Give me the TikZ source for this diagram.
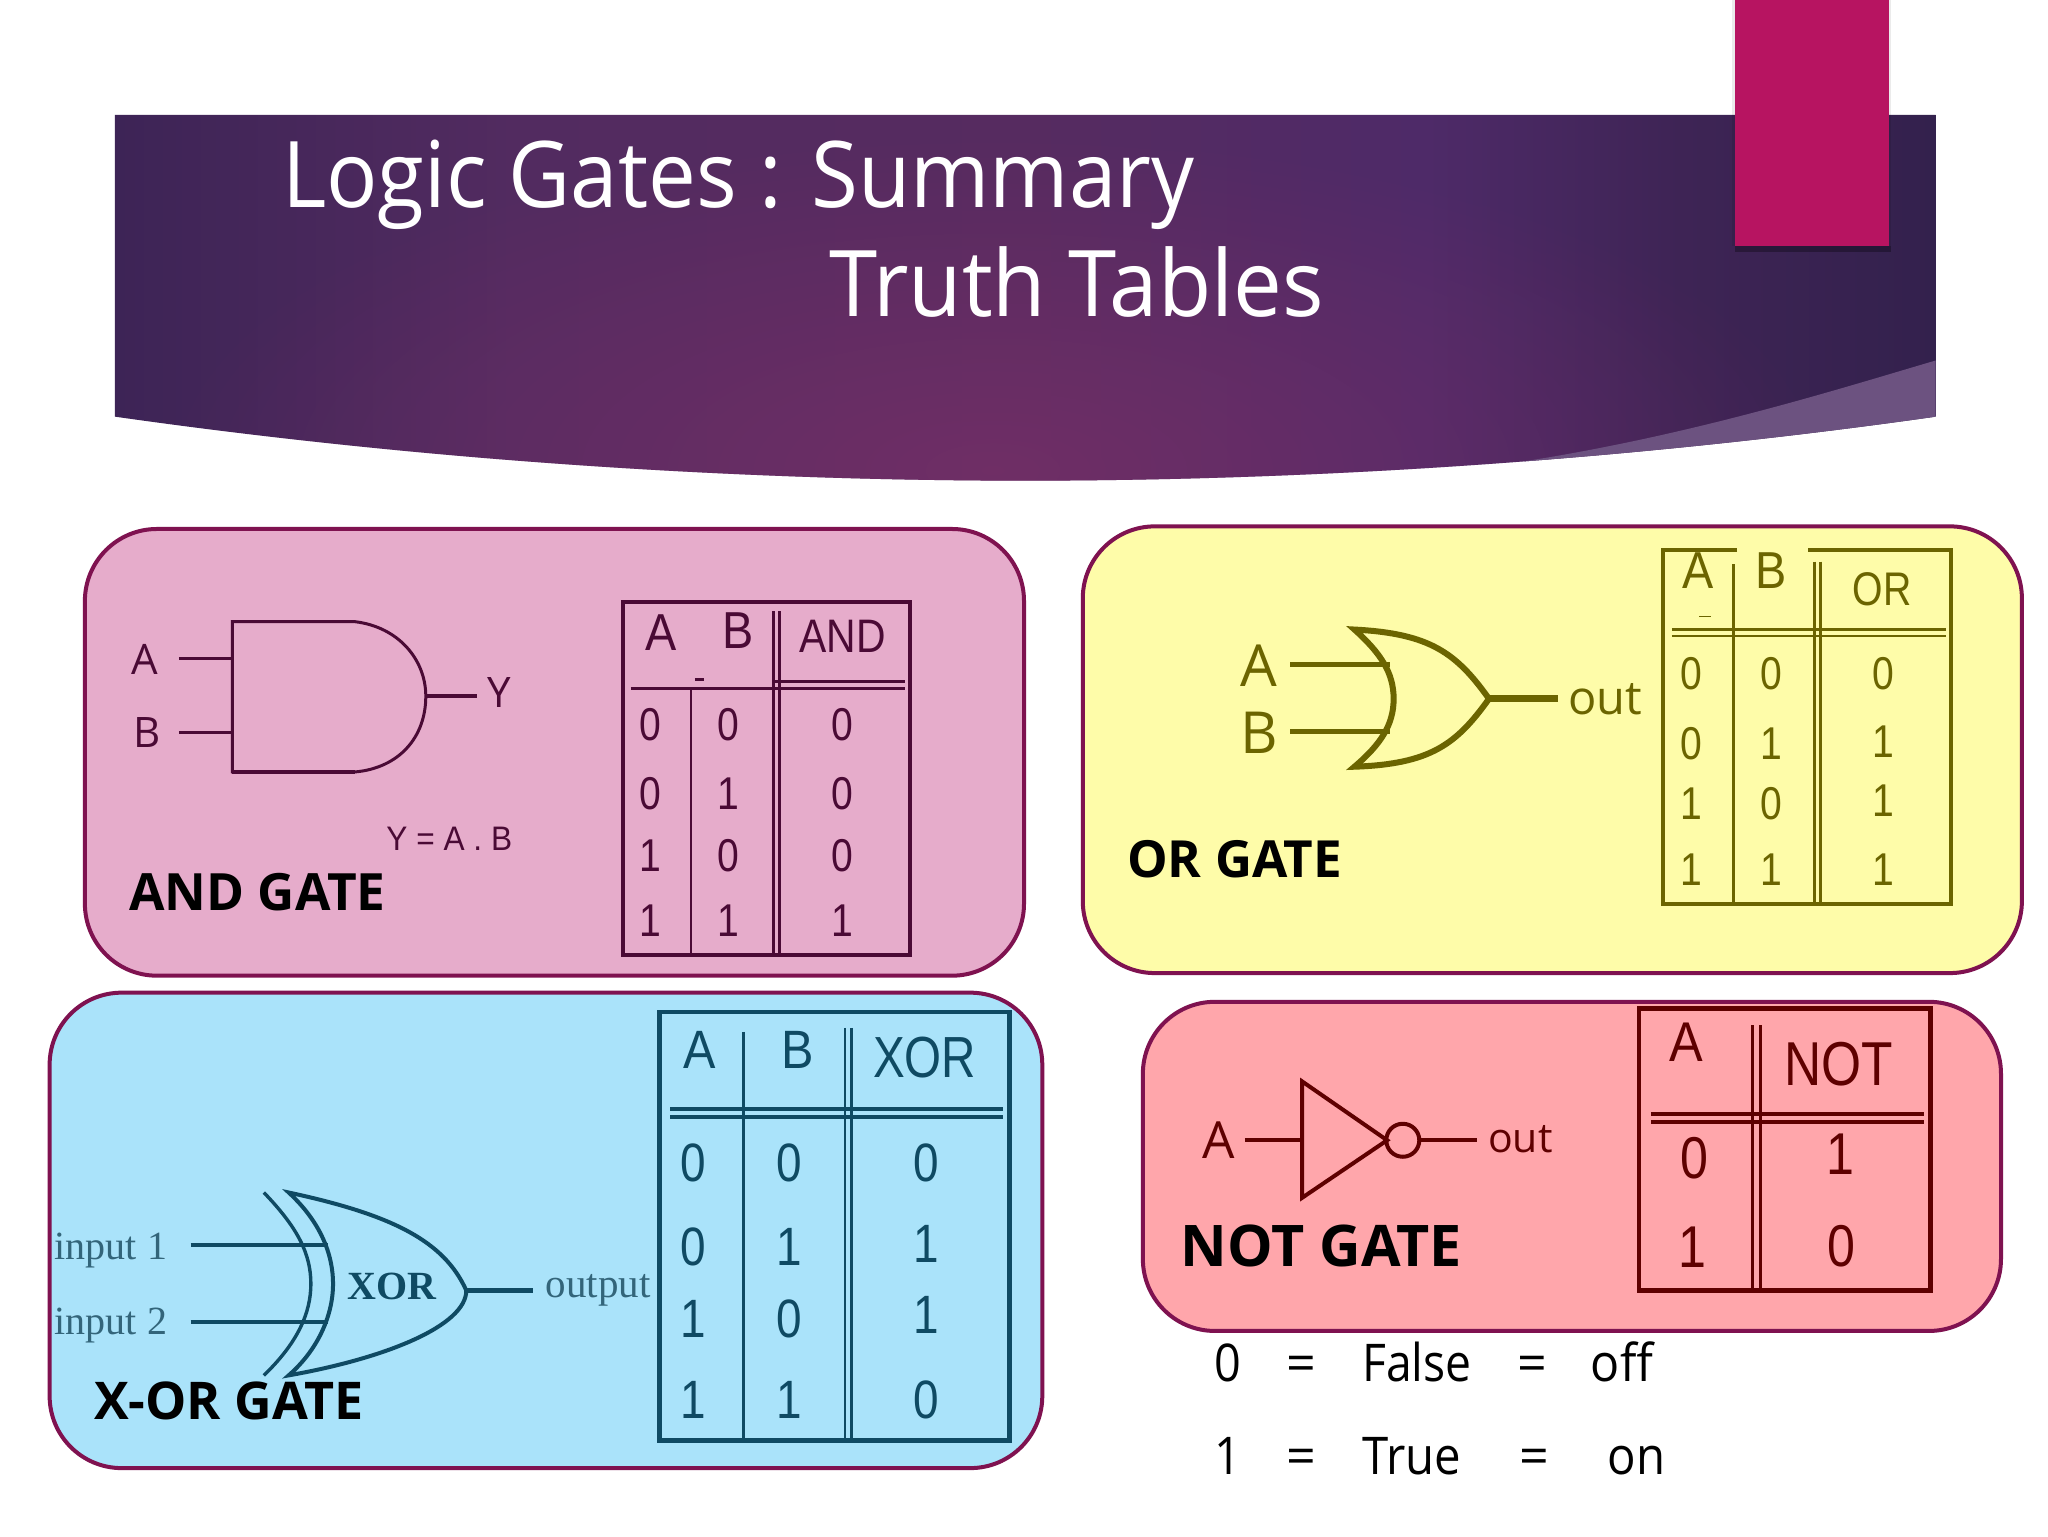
\documentclass[tikz,border=0pt]{standalone}
\usepackage{fontspec}
\setmainfont{Open Sans}
\newfontfamily\tabfont{Liberation Sans}
\newfontfamily\serfont{Liberation Serif}
\usetikzlibrary{fadings}
\definecolor{pborder}{HTML}{7F1250}
\definecolor{andfill}{HTML}{E6ACCB}
\definecolor{orfill}{HTML}{FEFCA9}
\definecolor{xorfill}{HTML}{AAE3FA}
\definecolor{notfill}{HTML}{FFA6AB}
\definecolor{andink}{HTML}{4A0A35}
\definecolor{orink}{HTML}{6B6400}
\definecolor{xorink}{HTML}{0F4A63}
\definecolor{notink}{HTML}{5E0000}
\definecolor{tabpink}{HTML}{B71461}
\definecolor{hA}{HTML}{3D2456}
\definecolor{hB}{HTML}{522B60}
\definecolor{hC}{HTML}{562B60}
\definecolor{hD}{HTML}{4E2A68}
\definecolor{hE}{HTML}{3E2455}
\definecolor{hF}{HTML}{33214D}
\definecolor{glowc}{HTML}{7D3069}
\definecolor{shard}{HTML}{6C5280}
\pgfdeclarehorizontalshading{hdrshade}{100bp}{
 color(0bp)=(hA); color(25bp)=(hA); color(36bp)=(hB); color(50bp)=(hC); color(61bp)=(hD); color(68bp)=(hE); color(75bp)=(hF); color(100bp)=(hF)}
\tikzfading[name=glowfade, inner color=transparent!35, outer color=transparent!100]
\newcommand{\fsz}[1]{\fontsize{#1}{#1}\selectfont}
\newcommand{\nar}[2]{\scalebox{#1}[1]{#2}}
\tikzset{
 every node/.style={inner sep=0pt,outer sep=0pt},
 panel/.style={draw=pborder,line width=2pt,rounded corners=36pt},
 gatelabel/.style={font=\bfseries\fsz{#1},text=black,anchor=base west},
 heading/.style={font=\fsz{46},text=white,anchor=base west},
 legend/.style={font=\fsz{26},text=black,anchor=base west},
 cell/.style={font=\tabfont\fsz{#1}},
 tline/.style={line width=1.4pt},
 tlinebold/.style={line width=2pt},
}
\begin{document}
\begin{tikzpicture}[x=0.65306pt,y=-0.65306pt]
\useasboundingbox (0,0) rectangle (1568,1176);
\fill[white] (0,0) rectangle (1568,1176);
% header banner
\begin{scope}
\clip (88,88) -- (1482,88) -- (1482,319) .. controls (1250,352) and (1010,368) .. (785,368) .. controls (560,368) and (320,352) .. (88,319) -- cycle;
\shade[shading=hdrshade] (88,88) rectangle (1482,370);
\fill[glowc,path fading=glowfade] (760,360) ellipse [x radius=640,y radius=260];
\fill[shard] (1482,276) .. controls (1400,300) and (1260,345) .. (1100,362) -- (1100,372) -- (1482,372) -- cycle;
\end{scope}
% tab
\fill[black,opacity=.08] (1326,0) rectangle (1448,188);
\fill[black,opacity=.3] (1328,188) rectangle (1448,193);
\fill[tabpink] (1328,0) rectangle (1446,188);
\node[heading] (title1) at (216,159) {\nar{.927}{Logic Gates : Summary}};
\node[heading] (title2) at (635,242) {\nar{.945}{Truth Tables}};

% AND panel
\draw[panel,fill=andfill] (65,405) rectangle (784,747);
\node[font=\fsz{21},text=andink] (andA) at (111,505) {A};
\node[font=\fsz{21},text=andink] (andB) at (113,561) {B};
\node[font=\fsz{21},text=andink] (andY) at (382,530) {Y};
\coordinate (andAs) at (137,504); \coordinate (andAe) at (178,504);
\coordinate (andBs) at (137,561); \coordinate (andBe) at (178,561);
\coordinate (andOs) at (326,533); \coordinate (andOe) at (365,533);
\draw[line width=1.5pt,draw=andink] (178,476) -- (272,476) .. controls (305,480) and (326,505) .. (326,533) .. controls (326,565) and (305,588) .. (272,591) -- (178,591) -- cycle;
\draw[line width=2.4pt,draw=andink] (178,591) -- (272,591);
\draw[draw=andink,line width=1.7pt] (andAs) -- (andAe);
\draw[draw=andink,line width=1.7pt] (andBs) -- (andBe);
\draw[draw=andink,line width=1.7pt] (andOs) -- (andOe);
\node[font=\tabfont\fsz{17},text=andink] (andEq) at (344,642) {\nar{.93}{Y = A . B}};
\draw[tlinebold,draw=andink] (477,461) rectangle (697,731);
\draw[tline,draw=andink] (529,527) -- (529,731);
\draw[tline,draw=andink] (592,468) -- (592,731) (597,468) -- (597,731);
\draw[tline,draw=andink] (483,527) -- (693,527) (592,522) -- (693,522);
\draw[tline,draw=andink] (532,520) -- (539,520);
\node[cell=26,text=andink] (andhA) at (506,484) {\nar{.9}{A}};
\node[cell=26,text=andink] (andhB) at (565,483) {\nar{.9}{B}};
\node[cell=23.5,text=andink] (andhR) at (645,487) {\nar{.87}{AND}};
\foreach \n/\x/\y/\t in {a/498/555/0,b/558/555/0,c/645/555/0,d/498/608/0,e/558/608/1,f/645/608/0,g/498/655/1,h/558/655/0,i/645/655/0,j/498/705/1,k/558/705/1,l/645/705/1}
 \node[cell=23,text=andink] (and\n) at (\x,\y) {\nar{.85}{\t}};
\node[gatelabel=25.7] (andLabel) at (99,697) {AND GATE};

% OR panel
\draw[panel,fill=orfill] (829,403) rectangle (1548,745);
\node[font=\fsz{29},text=orink] (orA) at (964,510) {A};
\node[font=\fsz{29},text=orink] (orB) at (964,561) {B};
\node[font=\fsz{23.5},text=orink] (orOut) at (1229,535) {out};
\coordinate (orAs) at (988,509); \coordinate (orAe) at (1064,509);
\coordinate (orBs) at (988,560); \coordinate (orBe) at (1064,560);
\coordinate (orOs) at (1140,535); \coordinate (orOe) at (1193,535);
\draw[line width=3pt,draw=orink] (1037,482) .. controls (1057,500) and (1067,515) .. (1067,535) .. controls (1067,555) and (1057,570) .. (1037,587) .. controls (1095,585) and (1115,570) .. (1140,535) .. controls (1115,500) and (1095,485) .. (1037,482) -- cycle;
\draw[line width=2.6pt,draw=orink] (orAs) -- (orAe);
\draw[line width=2.6pt,draw=orink] (orBs) -- (orBe);
\draw[line width=3.4pt,draw=orink] (orOs) -- (orOe);
\draw[tlinebold,draw=orink] (1330,421) -- (1273,421) -- (1273,692) -- (1494,692) -- (1494,421) -- (1384,421);
\draw[tline,draw=orink] (1327,432) -- (1327,692);
\draw[tline,draw=orink] (1389,430) -- (1389,692) (1394,430) -- (1394,692);
\draw[tline,draw=orink] (1280,482) -- (1490,482) (1280,487) -- (1490,487);
\draw[line width=.6pt,draw=orink] (1301,472) -- (1310,472);
\node[cell=26,text=orink] (orhA) at (1300,437) {\nar{.9}{A}};
\node[cell=26,text=orink] (orhB) at (1356,437) {\nar{.9}{B}};
\node[cell=23.6,text=orink] (orhR) at (1441,451) {\nar{.83}{OR}};
\foreach \n/\x/\y/\t in {a/1295/516/0,b/1356/516/0,c/1442/516/0,d/1295/569/0,e/1356/569/1,f/1442/568/1,g/1295/615/1,h/1356/615/0,i/1442/613/1,j/1295/666/1,k/1356/666/1,l/1442/666/1}
 \node[cell=23,text=orink] (or\n) at (\x,\y) {\nar{.85}{\t}};
\node[gatelabel=25.6] (orLabel) at (863,672) {OR GATE};

% XOR panel
\draw[panel,fill=xorfill] (38,760) rectangle (798,1124);
\node[font=\serfont\fsz{20},text=xorink!85!white,anchor=base west] (xorI1) at (42,964) {input 1};
\node[font=\serfont\fsz{20},text=xorink!85!white,anchor=base west] (xorI2) at (42,1022) {input 2};
\node[font=\serfont\fsz{20.5},text=xorink!85!white] (xorOut) at (458,988) {output};
\node[font=\serfont\bfseries\fsz{20},text=xorink] (xorName) at (300,985) {XOR};
\coordinate (xorAs) at (146,953); \coordinate (xorAe) at (251,953);
\coordinate (xorBs) at (146,1012); \coordinate (xorBe) at (251,1012);
\coordinate (xorOs) at (357,988); \coordinate (xorOe) at (408,988);
\draw[line width=1.7pt,draw=xorink] (202,913) .. controls (228,940) and (238,960) .. (238,983) .. controls (238,1005) and (228,1028) .. (202,1053);
\draw[line width=2pt,draw=xorink] (221,913) .. controls (245,935) and (255,960) .. (255,983) .. controls (255,1005) and (245,1032) .. (221,1053) .. controls (295,1040) and (357,1015) .. (357,988) .. controls (340,950) and (300,930) .. (221,913) -- cycle;
\draw[line width=2pt,draw=xorink] (xorAs) -- (xorAe);
\draw[line width=2pt,draw=xorink] (xorBs) -- (xorBe);
\draw[line width=2.2pt,draw=xorink] (xorOs) -- (xorOe);
\draw[line width=2.2pt,draw=xorink] (505,775) rectangle (773,1103);
\draw[tline,draw=xorink] (569,790) -- (569,1103);
\draw[tline,draw=xorink] (647,787) -- (647,1103) (652,787) -- (652,1103);
\draw[draw=xorink,line width=1.8pt] (513,849) -- (768,849) (513,855) -- (768,855);
\node[cell=27,text=xorink] (xorhA) at (536,804) {\nar{.9}{A}};
\node[cell=27,text=xorink] (xorhB) at (611,804) {\nar{.9}{B}};
\node[cell=29,text=xorink] (xorhR) at (708,810) {\nar{.82}{XOR}};
\foreach \n/\x/\y/\t in {a/531/890/0,b/604/890/0,c/709/890/0,d/531/955/0,e/604/955/1,f/709/952/1,g/531/1010/1,h/604/1010/0,i/709/1007/1,j/531/1072/1,k/604/1072/1,l/709/1072/0}
 \node[cell=27,text=xorink] (xor\n) at (\x,\y) {\nar{.85}{\t}};
\node[gatelabel=26] (xorLabel) at (72,1087) {X-OR GATE};

% NOT panel
\draw[panel,fill=notfill] (875,767) rectangle (1532,1019);
\node[font=\fsz{25.6},text=notink] (notA) at (933,873) {A};
\node[font=\fsz{20.5},text=notink] (notOut) at (1164,872) {out};
\coordinate (notIs) at (953,873); \coordinate (notIe) at (997,873);
\coordinate (notOs) at (1087,873); \coordinate (notOe) at (1131,873);
\draw[line width=2pt,draw=notink] (997,828) -- (1062,873) -- (997,917) -- cycle;
\node[draw=notink,line width=2pt,circle,minimum size=16.5pt] (notBub) at (1074,873) {};
\draw[line width=2pt,draw=notink] (notIs) -- (notIe);
\draw[line width=2pt,draw=notink] (notOs) -- (notOe);
\draw[line width=2.2pt,draw=notink] (1255,772) rectangle (1478,988);
\draw[tline,draw=notink] (1342,785) -- (1342,988) (1348,785) -- (1348,988);
\draw[line width=1.8pt,draw=notink] (1264,853) -- (1473,853) (1264,859) -- (1473,859);
\node[cell=28,text=notink] (nothA) at (1291,798) {\nar{.9}{A}};
\node[cell=31,text=notink] (nothR) at (1408,815) {\nar{.83}{NOT}};
\foreach \n/\x/\y/\t in {a/1297/887/0,b/1409/884/1,c/1296/955/1,d/1410/954/0}
 \node[cell=29.5,text=notink] (not\n) at (\x,\y) {\nar{.85}{\t}};
\node[gatelabel=28.7] (notLabel) at (904,970) {NOT GATE};

% legend
\node[legend] (l0a) at (930,1058) {\nar{.9}{0}};
\node[legend] (l0b) at (985,1058) {=};
\node[legend] (l0c) at (1043,1058) {\nar{.89}{False}};
\node[legend] (l0d) at (1162,1058) {=};
\node[legend] (l0e) at (1218,1058) {\nar{.93}{off}};
\node[legend] (l1a) at (930,1129) {\nar{.9}{1}};
\node[legend] (l1b) at (985,1129) {=};
\node[legend] (l1c) at (1043,1129) {\nar{.91}{True}};
\node[legend] (l1d) at (1163,1129) {=};
\node[legend] (l1e) at (1231,1129) {\nar{.91}{on}};
\end{tikzpicture}
\end{document}
